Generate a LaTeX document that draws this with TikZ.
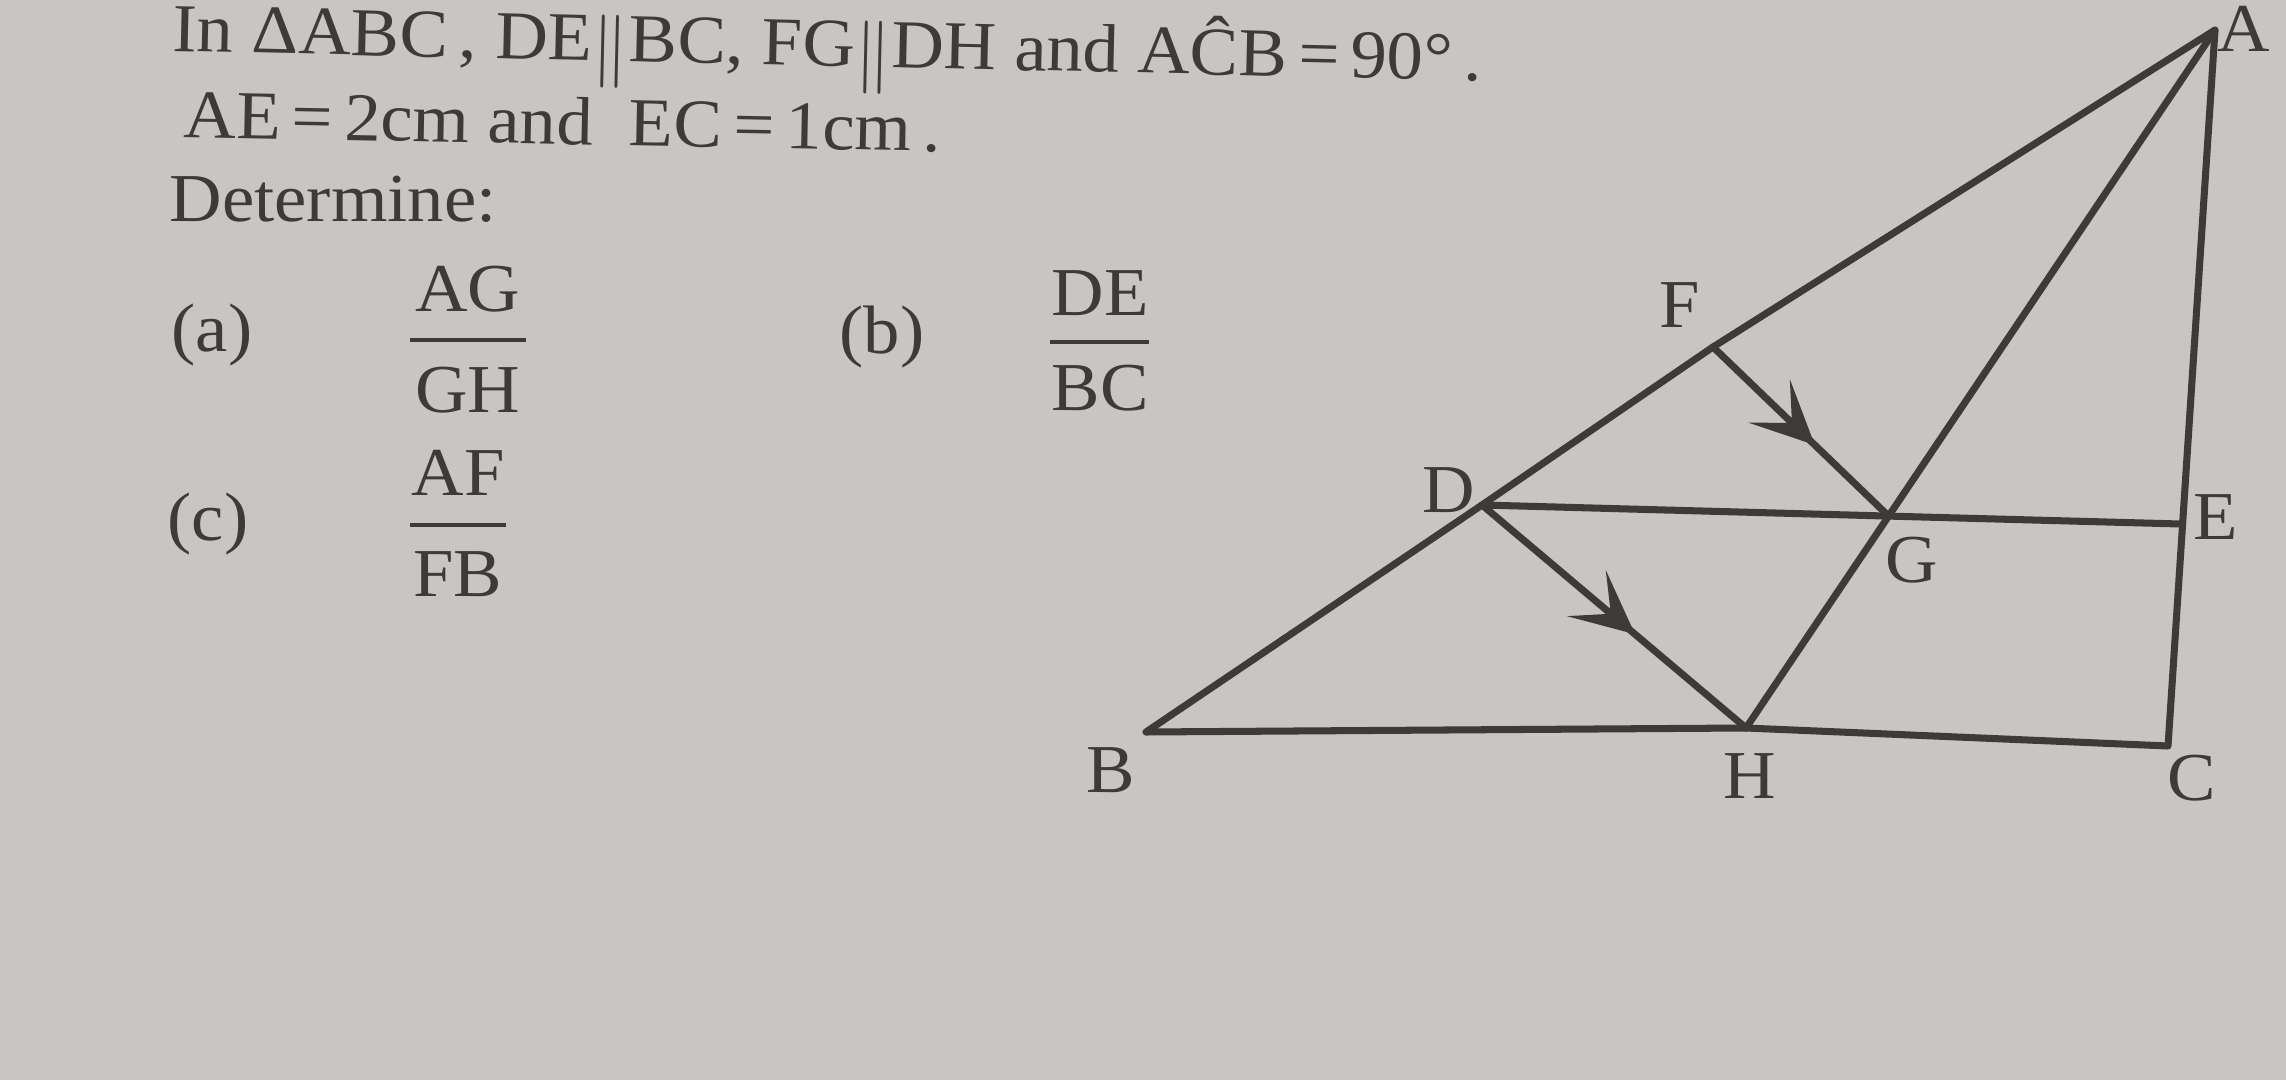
\documentclass[tikz,border=0pt]{standalone}
\usepackage{fontspec}
\setmainfont{Liberation Serif}[FakeStretch=1.06]
\usetikzlibrary{arrows.meta}
\usetikzlibrary{decorations.markings}
\definecolor{paper}{RGB}{199,198,194}
\definecolor{ink}{RGB}{60,59,57}
\newcommand{\parl}{\raisebox{-2.5pt}{$\|$}}

\begin{document}
\begin{tikzpicture}[x=0.01cm,y=-0.01cm,
	every node/.style={text=ink,font=\fontsize{19.5}{23}\selectfont,inner sep=0pt},
	side/.style={draw=ink,line width=2pt,line join=round,line cap=round},
	midarrow/.style={side,postaction={decorate},decoration={markings,
		mark=at position 0.58 with {\arrow{Stealth[length=18pt,width=17pt,inset=9pt]}}}},
	fracbar/.style={draw=ink,line width=1.1pt}]
	\fill[paper] (0,0) rectangle (2286,1080);
	\useasboundingbox (0,0) rectangle (2286,1080);
	% question text
	\node[anchor=base west,rotate=-1.3] (given) at (172,51) {In ΔABC\,, DE\parl BC, FG\parl DH and\ AĈB\,=\,90°\,.};
	\node[anchor=base west,rotate=-1.1] (lengths) at (183,137) {AE\,=\,2cm and\ \ EC\,=\,1cm\,.};
	\node[anchor=base west] (task) at (169,222) {Determine:};
	% (a)
	\node[anchor=base west] (parta) at (171,352) {(a)};
	\node[anchor=base] (numa) at (468,312) {AG};
	\node[anchor=base] (dena) at (468,413) {GH};
	\draw[fracbar] (410,340) -- (526,340);
	% (b)
	\node[anchor=base west] (partb) at (839,354) {(b)};
	\node[anchor=base] (numb) at (1100,316) {DE};
	\node[anchor=base] (denb) at (1100,411) {BC};
	\draw[fracbar] (1050,342) -- (1149,342);
	% (c)
	\node[anchor=base west] (partc) at (167,541) {(c)};
	\node[anchor=base] (numc) at (458,496) {AF};
	\node[anchor=base] (denc) at (458,597) {FB};
	\draw[fracbar] (410,525) -- (506,525);
	% triangle
	\coordinate (A) at (2215,30);
	\coordinate (B) at (1146,732);
	\coordinate (C) at (2168,746);
	\coordinate (D) at (1482,505);
	\coordinate (E) at (2180,524);
	\coordinate (F) at (1713,347);
	\coordinate (H) at (1746,728);
	\coordinate (G) at (intersection of D--E and A--H);
	\draw[side] (A) -- (F) -- (D) -- (B) -- (H) -- (C) -- cycle;
	\draw[side] (D) -- (G) -- (E);
	\draw[side] (A) -- (G) -- (H);
	\draw[midarrow] (F) -- (G);
	\draw[midarrow] (D) -- (H);
	% labels
	\node[anchor=base] (la) at (2244,52) {A};
	\node (lb) at (1111,770) {B};
	\node (lc) at (2192,778) {C};
	\node (ld) at (1449,490) {D};
	\node (le) at (2216,517) {E};
	\node (lf) at (1680,305) {F};
	\node (lg) at (1912,560) {G};
	\node (lh) at (1750,776) {H};
\end{tikzpicture}
\end{document}
